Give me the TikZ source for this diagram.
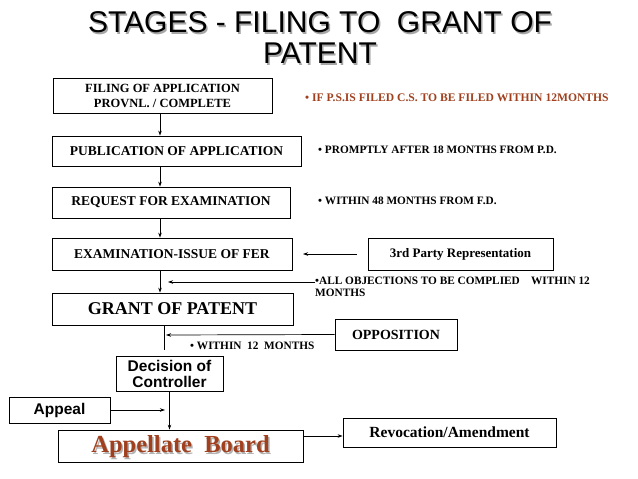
\documentclass[tikz,border=0pt]{standalone}
\usepackage{fontspec}
\setmainfont{Liberation Serif}
\newfontfamily\sans{Liberation Sans}
\usetikzlibrary{arrows.meta}
\definecolor{brn}{HTML}{A0401E}
\begin{document}
\begin{tikzpicture}[x=1pt,y=-1pt,
 box/.style={draw,thick,inner sep=0pt,font=\bfseries\fontsize{13.5}{15}\selectfont,align=center},
 note/.style={anchor=west,inner sep=0pt,font=\bfseries\fontsize{11.3}{13}\selectfont,align=left},
 arr/.style={-{Stealth[length=5pt,width=3.5pt]},line width=0.7pt},
 ln/.style={line width=0.7pt}]
\useasboundingbox[fill=white] (0,0) rectangle (638,479);
% title
\foreach \dx/\c in {1.5/gray!70,0/black}{
\node[text=\c,font=\sans\fontsize{30}{31}\selectfont,align=center] (t\dx) at (320+\dx,38+\dx) {STAGES - FILING TO\ \ GRANT OF\\PATENT};}
\node[box,minimum width=219,minimum height=35,font=\bfseries\fontsize{12.5}{15}\selectfont] (fil) at (162.5,95.5) {FILING OF APPLICATION\\PROVNL. / COMPLETE};
\node[box,minimum width=249,minimum height=30] (pub) at (176.5,151) {PUBLICATION OF APPLICATION};
\node[box,minimum width=238,minimum height=31] (req) at (171,202.5) {REQUEST FOR EXAMINATION};
\node[box,minimum width=240,minimum height=32] (exa) at (172,254) {EXAMINATION-ISSUE OF FER};
\node[box,minimum width=185,minimum height=32,font=\bfseries\fontsize{13}{15}\selectfont] (trd) at (460.5,254) {3rd Party Representation};
\node[box,minimum width=241,minimum height=32,font=\bfseries\fontsize{18}{20}\selectfont] (gra) at (172.5,309) {GRANT OF PATENT};
\node[box,minimum width=122,minimum height=31,font=\bfseries\fontsize{14}{15}\selectfont] (opp) at (396,334.5) {OPPOSITION};
\node[box,minimum width=107,minimum height=35,font=\sans\bfseries\fontsize{15.5}{16}\selectfont] (dec) at (169.5,373.5) {Decision of\\Controller};
\node[box,minimum width=101,minimum height=26,font=\sans\bfseries\fontsize{15.5}{16}\selectfont] (app) at (59.5,410) {Appeal};
\node[box,minimum width=245,minimum height=32] (apb) at (180.5,446) {};
\node[text=gray!60,font=\bfseries\fontsize{24.5}{26}\selectfont] (sh) at (182,448.5) {Appellate\ \ Board};
\node[text=brn,font=\bfseries\fontsize{24.5}{26}\selectfont] (apt) at (180.5,447) {Appellate\ \ Board};
\node[box,minimum width=213,minimum height=29,font=\bfseries\fontsize{15.5}{17}\selectfont] (rev) at (449.5,432.5) {Revocation/Amendment};
% notes
\node[note,text=brn,font=\bfseries\fontsize{11.6}{13}\selectfont] (n1) at (305,98) {\textbullet\ IF P.S.IS FILED C.S. TO BE FILED WITHIN 12MONTHS};
\node[note] (n2) at (318,150) {\textbullet\ PROMPTLY AFTER 18 MONTHS FROM P.D.};
\node[note] (n3) at (318,201) {\textbullet\ WITHIN 48 MONTHS FROM F.D.};
\node[note,anchor=north west,font=\bfseries\fontsize{11.3}{12}\selectfont] (n4) at (315,277) {\textbullet ALL OBJECTIONS TO BE COMPLIED\quad WITHIN 12\\MONTHS};
\node[note] (n5) at (190,346) {\textbullet\ WITHIN\ \ 12\ \ MONTHS};
% arrows
\draw[arr] (fil.south -| 160,0) -- (pub.north -| 160,0);
\draw[arr] (pub.south -| 160,0) -- (req.north -| 160,0);
\draw[arr] (req.south -| 160,0) -- (exa.north -| 160,0);
\draw[arr] (exa.south -| 160,0) -- (gra.north -| 160,0);
\coordinate (c1) at (315,282);
\draw[arr] (c1) -- (168,282);
\draw[arr] (trd.west) ++(-11,0) -- (303,254);
\draw[ln] (gra.south -| 164,0) -- (164,350);
\draw[arr] (opp.west) -- (166,335);
\draw[arr] (dec.south) -- (apb.north -| dec.south);
\draw[arr] (app.east) -- (165,410);
\draw[arr] (apb.east |- 0,436) -- (rev.west |- 0,436);
\end{tikzpicture}
\end{document}
